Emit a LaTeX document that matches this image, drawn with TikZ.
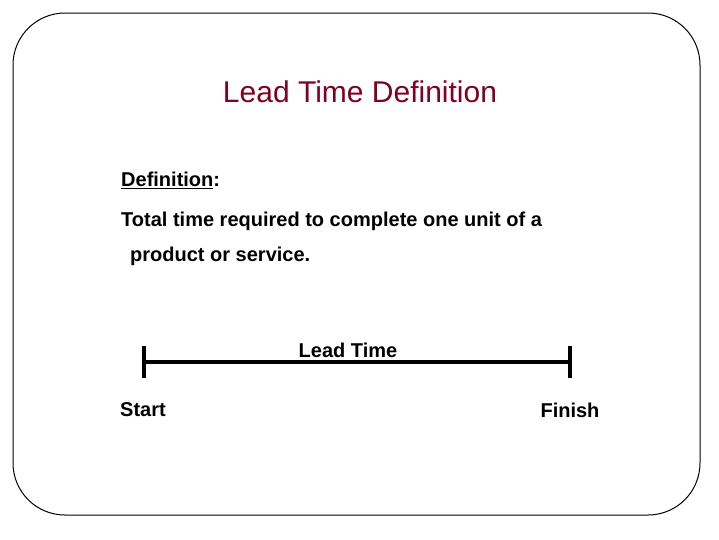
\documentclass[tikz,border=0pt]{standalone}
\usepackage{fontspec}
\setmainfont{Liberation Sans}
\usetikzlibrary{positioning}
\definecolor{mymaroon}{rgb}{0.50,0.0,0.13}

\begin{document}
\begin{tikzpicture}[x=1pt, y=-1pt, >=latex,
    body/.style={font=\fontsize{20}{24}\selectfont\bfseries, inner sep=0pt},
    bar/.style={line width=3.5pt}]
    \useasboundingbox (0,0) rectangle (719,539);
    \draw[line width=1pt, rounded corners=52pt] (13,13) rectangle (700,515);
    \node[mymaroon, font=\fontsize{30}{36}\selectfont, inner sep=0pt] (title) at (360,92) {Lead Time Definition};
    \node[body, anchor=west] (defn) at (121,180) {\underline{Definition}:};
    \node[body, anchor=west] (line1) at (121,221) {Total time required to complete one unit of a};
    \node[body, anchor=west] (line2) at (130,256) {product or service.};
    % time bar
    \coordinate (start) at (144,362);
    \coordinate (finish) at (570,362);
    \draw[bar] (start) -- (finish);
    \draw[bar] ([yshift=-16pt]start) -- ([yshift=16pt]start);
    \draw[bar] ([yshift=-16pt]finish) -- ([yshift=16pt]finish);
    \node[body] (lead) at (348,350) {Lead Time};
    \node[body] (startlbl) at (143,410) {Start};
    \node[body] (finishlbl) at (570,410) {Finish};
\end{tikzpicture}
\end{document}
